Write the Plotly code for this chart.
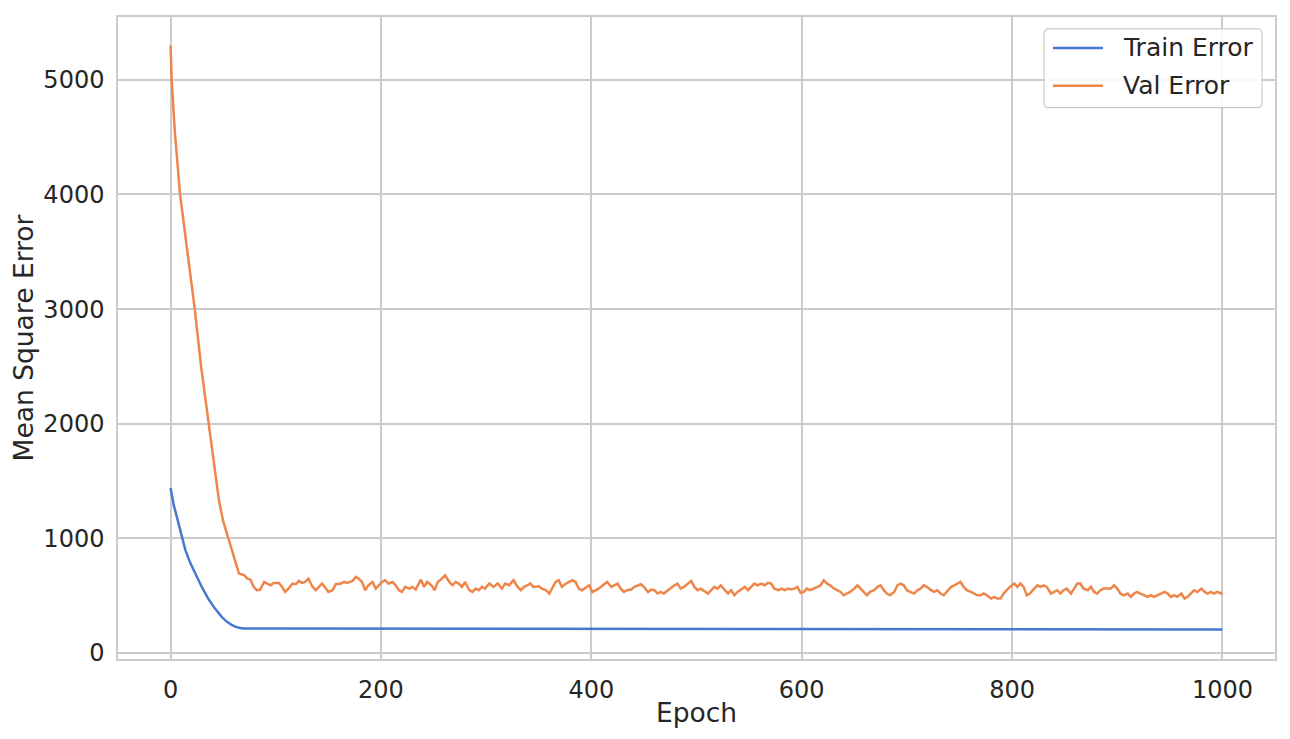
import plotly.graph_objects as go

# values
train_epochs = [0, 3, 6, 10, 14, 19, 24, 30, 36, 42, 49, 54, 58, 62, 66, 70,
                100, 200, 400, 600, 800, 1000]
train_error = [1440, 1290, 1186, 1040, 900, 780, 680, 570, 471, 390, 311, 270, 246, 228, 218, 215,
               214, 213, 211, 209, 208, 206]

val_epochs = [0, 1, 4, 9, 16, 23, 29, 36, 41, 46, 50, 55, 60, 65, 70, 73, 76, 79, 82, 85, 89,
              92, 95, 98, 103, 106, 109, 112, 116, 119, 122, 125, 128, 131, 135, 138, 141, 144, 147,
              150, 154, 157, 162, 165, 168, 173, 176, 179, 182, 185, 188, 192, 195, 198, 201, 204,
              207, 211, 214, 217, 220, 223, 227, 230, 233, 238, 241, 244, 248, 251, 254, 257, 261,
              265, 268, 271, 274, 277, 280, 284, 287, 290, 293, 296, 299, 303, 307, 311, 315, 318,
              322, 326, 330, 333, 336, 339, 342, 345, 350, 353, 357, 360, 363, 366, 369, 372, 376,
              379, 382, 385, 388, 391, 395, 398, 401, 404, 407, 411, 415, 419, 422, 425, 428, 431,
              434, 438, 441, 444, 447, 450, 454, 457, 460, 463, 466, 469, 473, 476, 479, 482, 485,
              488, 492, 495, 498, 501, 504, 508, 511, 514, 517, 520, 523, 527, 530, 533, 536, 539,
              543, 546, 549, 552, 555, 558, 562, 565, 568, 571, 574, 578, 581, 584, 587, 590, 593,
              596, 599, 602, 605, 608, 612, 615, 618, 621, 624, 627, 631, 634, 637, 640, 643, 646,
              650, 653, 656, 659, 662, 665, 669, 672, 675, 678, 681, 684, 688, 691, 694, 697, 700,
              703, 707, 710, 713, 716, 719, 723, 726, 729, 732, 735, 738, 742, 745, 748, 751, 754,
              757, 761, 764, 767, 770, 773, 776, 780, 783, 786, 789, 792, 795, 798, 802, 805, 808,
              811, 814, 817, 821, 824, 827, 830, 833, 837, 840, 843, 846, 849, 852, 856, 859, 862,
              865, 868, 872, 875, 878, 881, 884, 887, 891, 894, 897, 900, 903, 906, 910, 913, 916,
              919, 922, 926, 929, 932, 935, 938, 942, 945, 948, 951, 954, 957, 961, 964, 967, 970,
              973, 976, 980, 983, 986, 989, 992, 995, 999, 1000]
val_error = [5300, 5000, 4550, 4000, 3500, 3000, 2500, 2000, 1650, 1330, 1150, 1000, 837, 693, 680,
             649, 640, 577, 548, 552, 620, 606, 591, 611, 611, 577, 533, 562, 606, 600, 629, 612, 620,
             649, 577, 548, 577, 606, 571, 533, 548, 600, 606, 620, 612, 629, 664, 649, 620, 548, 591,
             620, 562, 591, 620, 635, 606, 620, 591, 548, 533, 577, 562, 577, 554, 641, 577, 620, 591,
             548, 620, 641, 678, 620, 591, 620, 606, 577, 620, 548, 533, 562, 548, 577, 562, 606, 577,
             606, 562, 606, 591, 635, 577, 548, 577, 591, 606, 577, 583, 562, 548, 519, 577, 620, 635,
             577, 606, 620, 635, 620, 562, 548, 577, 591, 533, 548, 562, 591, 620, 577, 591, 606, 562,
             533, 548, 554, 577, 591, 600, 577, 533, 554, 548, 519, 533, 519, 548, 577, 591, 606, 562,
             577, 606, 629, 577, 548, 562, 533, 519, 548, 577, 562, 591, 548, 519, 548, 504, 533, 562,
             577, 548, 577, 606, 591, 606, 591, 612, 606, 562, 548, 562, 548, 562, 554, 562, 577, 525,
             533, 562, 548, 562, 577, 591, 635, 606, 591, 562, 548, 533, 504, 519, 533, 562, 591, 562,
             533, 504, 533, 548, 577, 591, 548, 519, 504, 533, 591, 606, 591, 548, 533, 519, 548, 562,
             591, 577, 548, 533, 548, 519, 504, 533, 577, 591, 606, 620, 577, 548, 533, 519, 504, 504,
             519, 504, 475, 490, 475, 475, 519, 548, 577, 606, 577, 606, 577, 504, 519, 562, 591, 577,
             591, 577, 519, 533, 548, 519, 548, 562, 519, 562, 606, 606, 562, 548, 577, 533, 519, 548,
             562, 562, 562, 591, 562, 519, 504, 519, 490, 519, 533, 519, 504, 490, 504, 490, 504, 519,
             533, 519, 490, 504, 490, 519, 475, 490, 519, 548, 533, 562, 533, 519, 533, 519, 533, 519,
             525]

series_names = ["Train Error", "Val Error"]
series_colors = ["#4878d0", "#ee854a"]
x_ticks = [0, 200, 400, 600, 800, 1000]
y_ticks = [0, 1000, 2000, 3000, 4000, 5000]

ink = "#262626"
grid = "#cccccc"

# plot area in page pixels (used only to place the legend box)
PL, PR, PT, PB = 118, 1275, 15, 659


def px(x, y):
    return (x - PL) / (PR - PL), 1 - (y - PT) / (PB - PT)


fig = go.Figure()
fig.add_trace(go.Scatter(x=train_epochs, y=train_error, mode="lines", name=series_names[0],
                         line=dict(color=series_colors[0], width=2.5), showlegend=False))
fig.add_trace(go.Scatter(x=val_epochs, y=val_error, mode="lines", name=series_names[1],
                         line=dict(color=series_colors[1], width=2.5), showlegend=False))

# matplotlib-like legend: rounded frame, long line samples
x0, y0 = px(1044, 27)
x1, y1 = px(1262, 106)
rx, ry = 5 / (PR - PL), 5 / (PB - PT)
frame = (f"M {x0 + rx},{y0} L {x1 - rx},{y0} Q {x1},{y0} {x1},{y0 - ry} "
         f"L {x1},{y1 + ry} Q {x1},{y1} {x1 - rx},{y1} L {x0 + rx},{y1} "
         f"Q {x0},{y1} {x0},{y1 + ry} L {x0},{y0 - ry} Q {x0},{y0} {x0 + rx},{y0} Z")
shapes = [dict(type="path", xref="paper", yref="paper", path=frame,
               fillcolor="rgba(255,255,255,0.85)", line=dict(color=grid, width=1.2))]
annotations = []
for i, (name, color) in enumerate(zip(series_names, series_colors)):
    row_y = 46 + 38 * i
    lx0, ly = px(1053, row_y)
    lx1, _ = px(1103, row_y)
    tx, _ = px(1121, row_y)
    shapes.append(dict(type="line", xref="paper", yref="paper", x0=lx0, x1=lx1, y0=ly, y1=ly,
                       line=dict(color=color, width=2.5)))
    annotations.append(dict(xref="paper", yref="paper", x=tx, y=ly, text=name, showarrow=False,
                            xanchor="left", yanchor="middle",
                            font=dict(family="DejaVu Sans", size=25, color=ink)))

# the page body adds ~8px, so margins are shifted to land the axes where the reference has them
fig.update_layout(
    width=1290, height=739,
    margin=dict(l=110, r=23, t=7, b=88),
    paper_bgcolor="white", plot_bgcolor="white",
    font=dict(family="DejaVu Sans", size=24, color=ink),
    shapes=shapes, annotations=annotations,
)
fig.update_xaxes(range=[-50, 1050], tickvals=x_ticks,
                 title=dict(text="Epoch", standoff=1,
                            font=dict(family="DejaVu Sans", size=26.5, color=ink)),
                 showgrid=True, gridcolor=grid, gridwidth=1.5, zeroline=False,
                 showline=True, linecolor=grid, linewidth=1.5, mirror=True, ticks="",
                 ticklabelstandoff=8)
fig.update_yaxes(range=[-52, 5548], tickvals=y_ticks,
                 title=dict(text="Mean Square Error", standoff=2,
                            font=dict(family="DejaVu Sans", size=26.5, color=ink)),
                 showgrid=True, gridcolor=grid, gridwidth=1.5, zeroline=False,
                 showline=True, linecolor=grid, linewidth=1.5, mirror=True, ticks="",
                 ticklabelstandoff=7)

fig.write_html("out.html")
